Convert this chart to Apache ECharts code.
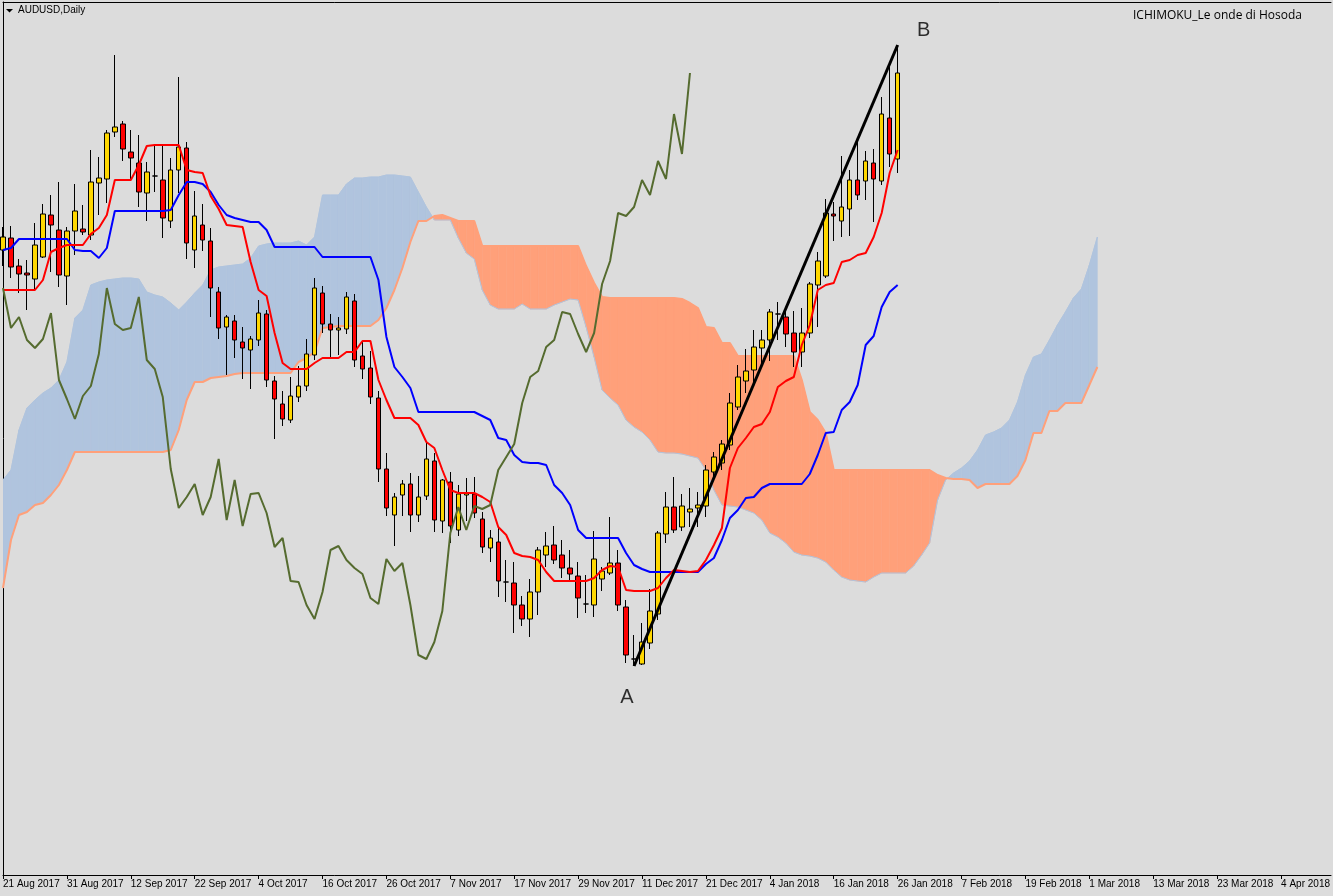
<!DOCTYPE html>
<html>
<head>
<meta charset="utf-8">
<script src="https://cdn.jsdelivr.net/npm/echarts@6/dist/echarts.min.js"></script>
<style>
html,body{margin:0;padding:0;background:#DCDCDC;overflow:hidden;}
#c{width:1333px;height:896px;}
</style>
</head>
<body>
<div id="c"></div>
<script>
// X-axis tick labels (one every 8 daily bars)
const tickLabels = ['21 Aug 2017','31 Aug 2017','12 Sep 2017','22 Sep 2017','4 Oct 2017','16 Oct 2017','26 Oct 2017','7 Nov 2017','17 Nov 2017','29 Nov 2017','11 Dec 2017','21 Dec 2017','4 Jan 2018','16 Jan 2018','26 Jan 2018','7 Feb 2018','19 Feb 2018','1 Mar 2018','13 Mar 2018','23 Mar 2018','4 Apr 2018'];

// Daily OHLC (bar index 0 = 21 Aug 2017)
const open = [0.7932,0.7944,0.7916,0.7909,0.7903,0.7925,0.7967,0.7952,0.7906,0.7951,
0.7953,0.7947,0.7999,0.8003,0.8050,0.8058,0.8030,0.8019,0.7989,0.8006,
0.8002,0.7961,0.8012,0.8034,0.7932,0.7957,0.7941,0.7890,0.7855,0.7861,
0.7840,0.7832,0.7842,0.7868,0.7801,0.7778,0.7762,0.7785,0.7796,0.7827,
0.7889,0.7858,0.7852,0.7853,0.7881,0.7826,0.7814,0.7784,0.7713,0.7667,
0.7687,0.7698,0.7667,0.7686,0.7721,0.7661,0.7700,0.7652,0.7687,0.7688,
0.7663,0.7634,0.7640,0.7600,0.7599,0.7577,0.7563,0.7590,0.7627,0.7637,
0.7627,0.7614,0.7606,0.7578,0.7577,0.7603,0.7609,0.7619,0.7575,0.7523,
0.7518,0.7539,0.7568,0.7648,0.7675,0.7655,0.7670,0.7674,0.7676,0.7710,
0.7719,0.7737,0.7775,0.7801,0.7812,0.7834,0.7842,0.7868,0.7865,0.7849,
0.7830,0.7849,0.7897,0.7906,0.7968,0.7961,0.7973,0.8002,0.8001,0.8019,
0.8001,0.8064,0.8023];
const close = [0.7945,0.7915,0.7908,0.7907,0.7937,0.7968,0.7957,0.7907,0.7951,0.7971,
0.7950,0.8000,0.8004,0.8049,0.8055,0.8033,0.8024,0.7990,0.8010,0.8006,
0.7964,0.8012,0.8035,0.7939,0.7966,0.7942,0.7894,0.7854,0.7865,0.7842,
0.7834,0.7843,0.7869,0.7802,0.7783,0.7763,0.7786,0.7796,0.7828,0.7894,
0.7858,0.7852,0.7854,0.7885,0.7822,0.7813,0.7785,0.7713,0.7674,0.7685,
0.7698,0.7667,0.7685,0.7723,0.7662,0.7702,0.7656,0.7688,0.7689,0.7669,
0.7635,0.7644,0.7601,0.7600,0.7577,0.7563,0.7590,0.7632,0.7636,0.7622,
0.7614,0.7608,0.7584,0.7578,0.7623,0.7611,0.7619,0.7577,0.7527,0.7523,
0.7540,0.7571,0.7649,0.7675,0.7652,0.7676,0.7673,0.7677,0.7712,0.7725,
0.7738,0.7779,0.7805,0.7811,0.7835,0.7842,0.7870,0.7868,0.7848,0.7830,
0.7849,0.7898,0.7921,0.7969,0.7966,0.7975,0.8002,0.7987,0.8021,0.8003,
0.8068,0.8028,0.8109];
const low = [0.7916,0.7904,0.7889,0.7872,0.7891,0.7924,0.7910,0.7895,0.7877,0.7927,
0.7947,0.7942,0.7967,0.7979,0.8045,0.8021,0.8002,0.7975,0.7961,0.7990,
0.7944,0.7954,0.7989,0.7923,0.7914,0.7931,0.7865,0.7843,0.7807,0.7824,
0.7803,0.7793,0.7836,0.7795,0.7743,0.7756,0.7759,0.7780,0.7791,0.7822,
0.7849,0.7825,0.7827,0.7848,0.7815,0.7803,0.7778,0.7700,0.7666,0.7636,
0.7666,0.7650,0.7660,0.7682,0.7650,0.7649,0.7639,0.7646,0.7661,0.7664,
0.7629,0.7620,0.7585,0.7580,0.7549,0.7556,0.7545,0.7567,0.7615,0.7618,
0.7604,0.7600,0.7564,0.7569,0.7565,0.7591,0.7607,0.7571,0.7519,0.7516,
0.7517,0.7533,0.7562,0.7639,0.7649,0.7651,0.7655,0.7655,0.7665,0.7702,
0.7712,0.7732,0.7772,0.7789,0.7800,0.7815,0.7821,0.7842,0.7835,0.7815,
0.7815,0.7844,0.7855,0.7904,0.7941,0.7945,0.7946,0.7982,0.7982,0.7960,
0.7997,0.8015,0.8009];
const high = [0.7955,0.7956,0.7923,0.7922,0.7959,0.7978,0.7987,0.8000,0.7955,0.7998,
0.7977,0.8032,0.8025,0.8052,0.8127,0.8061,0.8052,0.8047,0.8020,0.8038,
0.8038,0.8024,0.8105,0.8040,0.7991,0.7978,0.7954,0.7895,0.7867,0.7867,
0.7855,0.7846,0.7882,0.7872,0.7806,0.7791,0.7805,0.7816,0.7843,0.7904,
0.7896,0.7868,0.7865,0.7890,0.7888,0.7841,0.7831,0.7791,0.7729,0.7689,
0.7702,0.7709,0.7706,0.7739,0.7729,0.7703,0.7710,0.7697,0.7704,0.7705,
0.7670,0.7652,0.7655,0.7622,0.7620,0.7586,0.7603,0.7635,0.7650,0.7656,
0.7642,0.7632,0.7620,0.7607,0.7651,0.7615,0.7665,0.7632,0.7582,0.7547,
0.7559,0.7593,0.7651,0.7690,0.7705,0.7688,0.7694,0.7690,0.7717,0.7730,
0.7742,0.7789,0.7817,0.7833,0.7852,0.7852,0.7873,0.7880,0.7874,0.7871,
0.7874,0.7900,0.7930,0.7983,0.7980,0.8026,0.8012,0.8042,0.8031,0.8033,
0.8085,0.8115,0.8137];

// Tenkan-sen (red)
const tenkan = [0.7892,0.7892,0.7892,0.7892,0.7892,0.7902,0.7930,0.7934,0.7937,0.7937,
0.7937,0.7948,0.7954,0.7967,0.8002,0.8002,0.8002,0.8017,0.8036,0.8037,
0.8037,0.8037,0.8037,0.8012,0.8010,0.8009,0.7986,0.7973,0.7957,0.7956,
0.7955,0.7920,0.7892,0.7886,0.7849,0.7819,0.7813,0.7813,0.7813,0.7819,
0.7824,0.7824,0.7824,0.7830,0.7830,0.7841,0.7841,0.7802,0.7782,0.7764,
0.7764,0.7764,0.7757,0.7740,0.7734,0.7712,0.7692,0.7689,0.7689,0.7689,
0.7685,0.7680,0.7655,0.7647,0.7629,0.7626,0.7625,0.7622,0.7610,0.7601,
0.7601,0.7601,0.7601,0.7601,0.7604,0.7612,0.7616,0.7615,0.7592,0.7591,
0.7591,0.7591,0.7594,0.7604,0.7612,0.7611,0.7610,0.7611,0.7622,0.7637,
0.7654,0.7714,0.7734,0.7744,0.7755,0.7758,0.7770,0.7795,0.7801,0.7805,
0.7837,0.7857,0.7892,0.7897,0.7899,0.7920,0.7922,0.7927,0.7929,0.7945,
0.7969,0.8009,0.8032];

// Kijun-sen (blue)
const kijun = [0.7932,0.7934,0.7943,0.7943,0.7943,0.7943,0.7943,0.7943,0.7943,0.7932,
0.7931,0.7931,0.7924,0.7934,0.7971,0.7971,0.7971,0.7971,0.7971,0.7971,
0.7971,0.7972,0.7987,0.8000,0.8000,0.7998,0.7990,0.7977,0.7967,0.7964,
0.7962,0.7960,0.7960,0.7952,0.7935,0.7935,0.7935,0.7935,0.7935,0.7935,
0.7925,0.7925,0.7925,0.7925,0.7925,0.7925,0.7925,0.7902,0.7845,0.7815,
0.7805,0.7794,0.7770,0.7770,0.7770,0.7770,0.7770,0.7770,0.7770,0.7770,
0.7766,0.7762,0.7744,0.7742,0.7727,0.7720,0.7719,0.7719,0.7717,0.7697,
0.7689,0.7677,0.7652,0.7644,0.7644,0.7644,0.7644,0.7644,0.7629,0.7617,
0.7613,0.7610,0.7610,0.7610,0.7610,0.7610,0.7610,0.7610,0.7618,0.7624,
0.7642,0.7664,0.7672,0.7684,0.7685,0.7694,0.7698,0.7698,0.7698,0.7698,
0.7698,0.7708,0.7727,0.7749,0.7750,0.7772,0.7780,0.7797,0.7837,0.7846,
0.7875,0.7890,0.7897];

// Senkou Span A (light steel blue edge), plotted from bar 0 to bar 137
const spanA = [0.7702,0.7712,0.7752,0.7774,0.7782,0.7789,0.7794,0.7802,0.7820,0.7864,
0.7872,0.7897,0.7900,0.7902,0.7903,0.7904,0.7904,0.7903,0.7890,0.7887,
0.7885,0.7879,0.7872,0.7880,0.7889,0.7897,0.7912,0.7915,0.7916,0.7917,
0.7918,0.7924,0.7936,0.7938,0.7939,0.7939,0.7939,0.7941,0.7937,0.7945,
0.7987,0.7987,0.7987,0.7998,0.8004,0.8004,0.8005,0.8005,0.8007,0.8007,
0.8006,0.8005,0.7990,0.7975,0.7962,0.7962,0.7962,0.7944,0.7929,0.7923,
0.7892,0.7877,0.7873,0.7873,0.7873,0.7878,0.7873,0.7873,0.7873,0.7877,
0.7880,0.7883,0.7882,0.7855,0.7825,0.7792,0.7784,0.7777,0.7762,0.7755,
0.7750,0.7742,0.7730,0.7729,0.7729,0.7728,0.7726,0.7724,0.7712,0.7692,
0.7677,0.7676,0.7675,0.7672,0.7669,0.7662,0.7649,0.7645,0.7639,0.7630,
0.7627,0.7626,0.7624,0.7620,0.7612,0.7605,0.7602,0.7601,0.7600,0.7605,
0.7609,0.7609,0.7609,0.7609,0.7616,0.7627,0.7639,0.7682,0.7702,0.7709,
0.7714,0.7721,0.7732,0.7747,0.7750,0.7754,0.7762,0.7780,0.7807,0.7825,
0.7828,0.7842,0.7857,0.7870,0.7884,0.7893,0.7917,0.7945];

// Senkou Span B (light salmon line)
const spanB = [0.7594,0.7642,0.7667,0.7670,0.7677,0.7679,0.7687,0.7697,0.7712,0.7730,
0.7730,0.7730,0.7730,0.7730,0.7730,0.7730,0.7730,0.7730,0.7730,0.7730,
0.7730,0.7732,0.7752,0.7782,0.7800,0.7800,0.7804,0.7805,0.7806,0.7808,
0.7809,0.7809,0.7809,0.7809,0.7809,0.7809,0.7809,0.7820,0.7824,0.7830,
0.7854,0.7855,0.7856,0.7856,0.7856,0.7856,0.7856,0.7862,0.7874,0.7892,
0.7914,0.7940,0.7961,0.7961,0.7966,0.7967,0.7964,0.7961,0.7961,0.7961,
0.7936,0.7936,0.7936,0.7936,0.7936,0.7936,0.7936,0.7936,0.7936,0.7936,
0.7936,0.7936,0.7936,0.7916,0.7899,0.7885,0.7884,0.7884,0.7884,0.7884,
0.7884,0.7884,0.7884,0.7884,0.7884,0.7883,0.7879,0.7874,0.7855,0.7854,
0.7839,0.7839,0.7826,0.7826,0.7826,0.7826,0.7826,0.7826,0.7826,0.7826,
0.7802,0.7770,0.7762,0.7749,0.7712,0.7712,0.7712,0.7712,0.7712,0.7712,
0.7712,0.7712,0.7712,0.7712,0.7712,0.7712,0.7712,0.7707,0.7704,0.7703,
0.7703,0.7702,0.7694,0.7698,0.7698,0.7698,0.7698,0.7706,0.7722,0.7749,
0.7749,0.7771,0.7771,0.7779,0.7779,0.7779,0.7797,0.7815];

const chikouShift = 26;
// Hand-drawn trend line A -> B and its labels ([bar index, price])
const trendLine = [[79, 0.7516], [112, 0.8137]];
const annotations = [{name: 'A', value: [78.1, 0.7485]}, {name: 'B', value: [115.25, 0.8152]}];

const candleData = open.map((o, i) => [i, o, close[i], low[i], high[i]]);
const line = (arr, off) => arr.map((v, i) => [i + (off || 0), v]);
const cloudData = [];
for (let i = 0; i < spanA.length - 1; i++) cloudData.push([i, spanA[i], spanB[i], spanA[i + 1], spanB[i + 1]]);

const BLUE = '#B0C4DE', SALMON = '#FFA07A';
function cloudItem(params, api) {
  const i = api.value(0), a0 = api.value(1), b0 = api.value(2), a1 = api.value(3), b1 = api.value(4);
  const P = (x, v) => api.coord([x, v]);
  const poly = (pts, c) => ({type: 'polygon', shape: {points: pts}, style: {fill: c, stroke: c, lineWidth: 0.6}});
  const d0 = a0 - b0, d1 = a1 - b1;
  if (d0 * d1 >= 0) {
    return poly([P(i, a0), P(i + 1, a1), P(i + 1, b1), P(i, b0)], (d0 + d1) >= 0 ? BLUE : SALMON);
  }
  const t = d0 / (d0 - d1), xm = i + t, vm = a0 + t * (a1 - a0);
  return {type: 'group', children: [
    poly([P(i, a0), P(xm, vm), P(i, b0)], d0 > 0 ? BLUE : SALMON),
    poly([P(xm, vm), P(i + 1, a1), P(i + 1, b1)], d1 > 0 ? BLUE : SALMON)
  ]};
}

const chart = echarts.init(document.getElementById('c'), null, {renderer: 'canvas'});
const XMAX = 1330 / 8;
chart.setOption({
  animation: false,
  backgroundColor: '#DCDCDC',
  grid: {left: 3, right: 0, top: 2, bottom: 21, show: false},
  xAxis: [{
    type: 'value', min: 0, max: XMAX, interval: 8,
    axisLine: {show: true, lineStyle: {color: '#000', width: 1}},
    axisTick: {show: true, length: 4, lineStyle: {color: '#000'}},
    splitLine: {show: false},
    axisLabel: {
      show: true, align: 'left', margin: 4, color: '#000', fontSize: 10, fontFamily: 'Liberation Sans',
      showMaxLabel: false,
      formatter: v => { const k = Math.round(v / 8); return (Math.abs(v - k * 8) < 1e-6 && tickLabels[k]) ? tickLabels[k] : ''; }
    }
  }, {
    type: 'value', position: 'top', min: 0, max: XMAX,
    axisLine: {show: true, onZero: false, lineStyle: {color: '#000', width: 1}},
    axisTick: {show: false}, axisLabel: {show: false}, splitLine: {show: false}
  }],
  yAxis: {type: 'value', min: 0.7307, max: 0.8180, position: 'left',
    axisLine: {show: true, onZero: false, lineStyle: {color: '#000', width: 1}},
    axisTick: {show: false}, axisLabel: {show: false}, splitLine: {show: false}},
  graphic: [
    {type: 'polygon', shape: {points: [[6, 9], [13, 9], [9.5, 12.5]]}, style: {fill: '#000'}, z: 100},
    {type: 'text', left: 18, top: 5, style: {text: 'AUDUSD,Daily', font: '10px "Liberation Sans"', fill: '#000'}, z: 100},
    {type: 'text', right: 31, top: 10, style: {text: 'ICHIMOKU_Le onde di Hosoda', font: '12px "Open Sans"', fill: '#000'}, z: 100}
  ],
  series: [
    {type: 'custom', name: 'cloud', renderItem: cloudItem, data: cloudData, z: 1, silent: true,
     encode: {x: 0, y: [1, 2, 3, 4]}, clip: true},
    {type: 'line', name: 'Senkou A', data: line(spanA), showSymbol: false, z: 2,
     lineStyle: {color: BLUE, width: 1}},
    {type: 'line', name: 'Senkou B', data: line(spanB), showSymbol: false, z: 2,
     lineStyle: {color: SALMON, width: 2}},
    {type: 'candlestick', name: 'AUDUSD', data: candleData, barWidth: 5, z: 3,
     encode: {x: 0, y: [1, 2, 3, 4]},
     itemStyle: {color: '#FFD700', color0: '#FF0000', borderColor: '#000', borderColor0: '#000', borderWidth: 1}},
    {type: 'line', name: 'Kijun', data: line(kijun), showSymbol: false, z: 4,
     lineStyle: {color: '#0000FF', width: 2}},
    {type: 'line', name: 'Tenkan', data: line(tenkan), showSymbol: false, z: 4,
     lineStyle: {color: '#FF0000', width: 2}},
    {type: 'line', name: 'Chikou', data: close.slice(chikouShift).map((c, k) => [k, c]), showSymbol: false, z: 4,
     lineStyle: {color: '#556B2F', width: 2}},
    {type: 'line', name: 'Trend', data: trendLine, showSymbol: false, z: 5,
     lineStyle: {color: '#000', width: 3}},
    {type: 'scatter', name: 'labels', data: annotations, symbolSize: 0, z: 6,
     label: {show: true, position: 'inside', formatter: p => p.name, color: '#000', fontSize: 20, fontFamily: 'Liberation Sans'}}
  ]
});
</script>
</body>
</html>
